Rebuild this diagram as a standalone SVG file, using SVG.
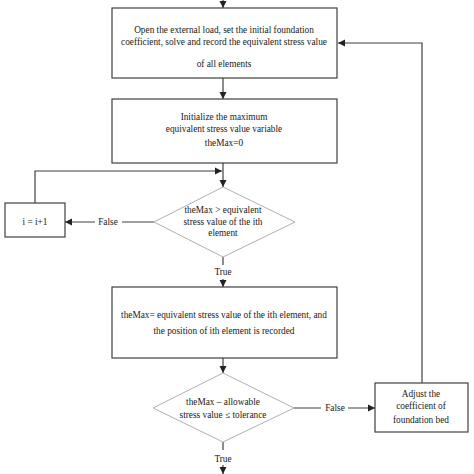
<svg xmlns="http://www.w3.org/2000/svg" width="474" height="474" viewBox="0 0 474 474">
<style>
.box{fill:#fff;stroke:#404040;stroke-width:1.2}
.dia{fill:#fff;stroke:#b0b0b0;stroke-width:1}
.ln{fill:none;stroke:#404040;stroke-width:1.2}
text{font-family:"Liberation Serif","DejaVu Serif",serif;font-size:9.3px;fill:#1a1a1a;text-anchor:middle}
.lbl{fill:#fff}
</style>
<defs>
<marker id="ah" markerWidth="8" markerHeight="8" refX="7" refY="4" orient="auto" markerUnits="userSpaceOnUse">
<path d="M0,0.5 L7,4 L0,7.5 Z" fill="#222"/>
</marker>
</defs>
<rect width="474" height="474" fill="#fff"/>
<g id="connectors">
<line class="ln" x1="223" y1="0" x2="223" y2="8" marker-end="url(#ah)"/>
<line class="ln" x1="223" y1="78" x2="223" y2="99" marker-end="url(#ah)"/>
<line class="ln" x1="223" y1="163" x2="223" y2="187" marker-end="url(#ah)"/>
<polyline class="ln" points="35,203 35,171 222,171" marker-end="url(#ah)"/>
<line class="ln" x1="154" y1="222" x2="65" y2="222" marker-end="url(#ah)"/>
<rect class="lbl" x="95" y="215" width="27" height="12"/>
<text x="108" y="225">False</text>
<line class="ln" x1="223" y1="257" x2="223" y2="265"/>
<text x="223" y="275">True</text>
<line class="ln" x1="223" y1="279" x2="223" y2="287" marker-end="url(#ah)"/>
<line class="ln" x1="223" y1="358" x2="223" y2="373" marker-end="url(#ah)"/>
<line class="ln" x1="294" y1="408" x2="375" y2="408" marker-end="url(#ah)"/>
<rect class="lbl" x="321" y="402" width="27" height="12"/>
<text x="335" y="411">False</text>
<line class="ln" x1="223" y1="442" x2="223" y2="450"/>
<text x="223" y="462">True</text>
<line class="ln" x1="223" y1="465" x2="223" y2="474" marker-end="url(#ah)"/>
<polyline class="ln" points="422,383 422,43 338,43" marker-end="url(#ah)"/>
</g>
<g id="node-load">
<rect class="box" x="112" y="8" width="225" height="70"/>
<text x="224" y="33">Open the external load, set the initial foundation</text>
<text x="224" y="45">coefficient, solve and record the equivalent stress value</text>
<text x="224" y="67">of all elements</text>
</g>
<g id="node-init">
<rect class="box" x="112" y="99" width="225" height="64"/>
<text x="224" y="120">Initialize the maximum</text>
<text x="224" y="132">equivalent stress value variable</text>
<text x="224" y="146">theMax=0</text>
</g>
<g id="node-cond1">
<polygon class="dia" points="223,187 295,222 223,257 154,222"/>
<text x="223" y="213">theMax &gt; equivalent</text>
<text x="223" y="225">stress value of the ith</text>
<text x="223" y="236">element</text>
</g>
<g id="node-inc">
<rect class="box" x="5" y="203" width="60" height="34"/>
<text x="35" y="225">i = i+1</text>
</g>
<g id="node-record">
<rect class="box" x="112" y="287" width="225" height="71"/>
<text x="224" y="318">theMax= equivalent stress value of the ith element, and</text>
<text x="224" y="334">the position of ith element is recorded</text>
</g>
<g id="node-cond2">
<polygon class="dia" points="223,373 294,408 223,442 153,408"/>
<text x="223" y="405">theMax – allowable</text>
<text x="223" y="418">stress value ≤ tolerance</text>
</g>
<g id="node-adjust">
<rect class="box" x="375" y="383" width="93" height="49"/>
<text x="421" y="397">Adjust the</text>
<text x="421" y="409">coefficient of</text>
<text x="421" y="423">foundation bed</text>
</g>
</svg>
